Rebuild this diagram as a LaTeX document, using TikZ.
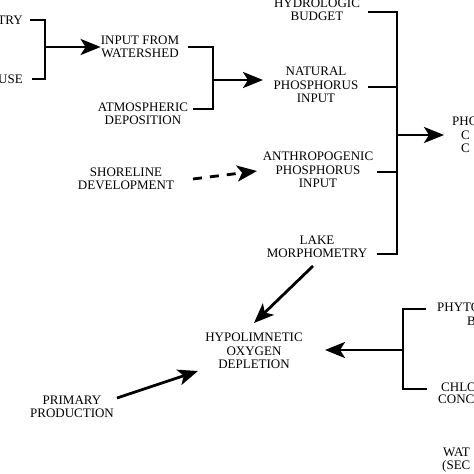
\documentclass[tikz,border=0pt]{standalone}
\usepackage{fontspec}
\setmainfont{Liberation Serif}
\usetikzlibrary{arrows.meta}
\begin{document}
\begin{tikzpicture}[x=1pt,y=-1pt,
  lbl/.style={align=center,inner sep=0pt,font=\fontsize{13}{13.5}\selectfont},
  ln/.style={line width=2pt},
  arr/.style={line width=2.8pt,-{Stealth[length=20pt,width=16pt,inset=5pt]}},
  darr/.style={line width=2.8pt,dash pattern=on 9pt off 8pt,-{Stealth[length=20pt,width=16pt,inset=5pt]}}]
\useasboundingbox (0,0) rectangle (474,474);
\clip (0,0) rectangle (474,474);
% text nodes
\node[lbl,anchor=east] (try) at (23,20) {TRY};
\node[lbl,anchor=east] (use) at (23,79) {USE};
\node[lbl] (iw) at (140,47) {INPUT FROM\\WATERSHED};
\node[lbl] (ad) at (143,114) {ATMOSPHERIC\\DEPOSITION};
\node[lbl] (hb) at (317,10) {HYDROLOGIC\\BUDGET};
\node[lbl] (npi) at (316,85) {NATURAL\\PHOSPHORUS\\INPUT};
\node[lbl] (api) at (318,170) {ANTHROPOGENIC\\PHOSPHORUS\\INPUT};
\node[lbl] (lm) at (317,247) {LAKE\\MORPHOMETRY};
\node[lbl] (sd) at (126,179) {SHORELINE\\DEVELOPMENT};
\node[lbl] (hod) at (254,351) {HYPOLIMNETIC\\OXYGEN\\DEPLETION};
\node[lbl] (pp) at (72,407) {PRIMARY\\PRODUCTION};
\node[lbl,anchor=west] (pho) at (452,121) {PHO};
\node[lbl,anchor=west] (c1) at (461,135) {C};
\node[lbl,anchor=west] (c2) at (461,148) {C};
\node[lbl,anchor=west] (phy) at (437,307) {PHYTO};
\node[lbl,anchor=west] (bb) at (467,321) {B};
\node[lbl,anchor=west] (chl) at (441,387) {CHLO};
\node[lbl,anchor=west] (conc) at (438,399) {CONC};
\node[lbl,anchor=west] (wat) at (443,452) {WAT};
\node[lbl,anchor=west] (sec) at (442,466) {(SEC};
% coordinates
\coordinate (t1) at (30,20);
\coordinate (u1) at (32,79);
\coordinate (j1) at (45,47);
\coordinate (w1) at (188,47);
\coordinate (a1) at (193,109);
\coordinate (j2) at (213,80);
\coordinate (e2) at (263,80);
\coordinate (h1) at (368,12);
\coordinate (n1) at (368,87);
\coordinate (p1) at (377,172);
\coordinate (l1) at (377,254);
\coordinate (j3) at (397,135);
\coordinate (e3) at (444,135);
\coordinate (d1) at (193,179);
\coordinate (d2) at (257,171);
\coordinate (m1) at (313,266);
\coordinate (m2) at (254,323);
\coordinate (y1) at (426,309);
\coordinate (y2) at (427,389);
\coordinate (j4) at (403,350);
\coordinate (e4) at (325,350);
\coordinate (r1) at (117,398);
\coordinate (r2) at (198,371);
% brackets
\draw[ln] (t1) -| (j1 |- u1) -- (u1);
\draw[arr] (j1) -- (iw.west);
\draw[ln] (w1) -| (j2 |- a1) -- (a1);
\draw[arr] (j2) -- (e2);
\draw[ln] (h1) -| (j3 |- l1) -- (l1);
\draw[ln] (n1) -- (j3 |- n1);
\draw[ln] (p1) -- (j3 |- p1);
\draw[arr] (j3) -- (e3);
\draw[darr] (d1) -- (d2);
\draw[arr] (m1) -- (m2);
\draw[ln] (y1) -| (j4 |- y2) -- (y2);
\draw[arr] (j4) -- (e4);
\draw[arr] (r1) -- (r2);
\end{tikzpicture}
\end{document}
